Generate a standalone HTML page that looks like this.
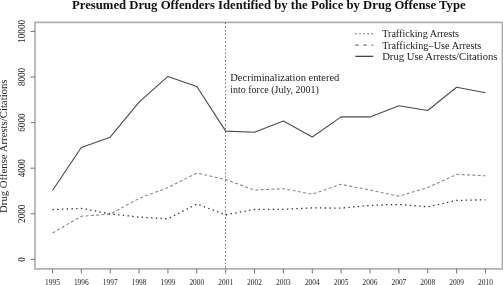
<!DOCTYPE html>
<html><head><meta charset="utf-8"><style>
html,body{margin:0;padding:0;background:#fff;}
svg{display:block;will-change:transform;}
text{font-family:"Liberation Serif",serif;fill:#222;}
</style></head><body>
<svg width="503" height="285" viewBox="0 0 503 285">
<text x="268.8" y="8.6" text-anchor="middle" font-weight="bold" font-size="12" textLength="393.6" lengthAdjust="spacingAndGlyphs" style="fill:#111">Presumed Drug Offenders Identified by the Police by Drug Offense Type</text>
<rect x="35" y="22.4" width="467.4" height="246.5" fill="none" stroke="#aaa" stroke-width="1.6"/>
<g stroke="#777" stroke-width="1"><line x1="30.5" y1="259.4" x2="35" y2="259.4"/><line x1="30.5" y1="213.8" x2="35" y2="213.8"/><line x1="30.5" y1="168.2" x2="35" y2="168.2"/><line x1="30.5" y1="122.6" x2="35" y2="122.6"/><line x1="30.5" y1="77.0" x2="35" y2="77.0"/><line x1="30.5" y1="31.4" x2="35" y2="31.4"/><line x1="52.5" y1="268.9" x2="52.5" y2="273.5"/><line x1="81.3" y1="268.9" x2="81.3" y2="273.5"/><line x1="110.2" y1="268.9" x2="110.2" y2="273.5"/><line x1="139.1" y1="268.9" x2="139.1" y2="273.5"/><line x1="167.9" y1="268.9" x2="167.9" y2="273.5"/><line x1="196.8" y1="268.9" x2="196.8" y2="273.5"/><line x1="225.7" y1="268.9" x2="225.7" y2="273.5"/><line x1="254.5" y1="268.9" x2="254.5" y2="273.5"/><line x1="283.4" y1="268.9" x2="283.4" y2="273.5"/><line x1="312.3" y1="268.9" x2="312.3" y2="273.5"/><line x1="341.1" y1="268.9" x2="341.1" y2="273.5"/><line x1="370.0" y1="268.9" x2="370.0" y2="273.5"/><line x1="398.9" y1="268.9" x2="398.9" y2="273.5"/><line x1="427.7" y1="268.9" x2="427.7" y2="273.5"/><line x1="456.6" y1="268.9" x2="456.6" y2="273.5"/><line x1="485.5" y1="268.9" x2="485.5" y2="273.5"/></g>
<g font-size="9.6"><text transform="translate(24.8,259.4) rotate(-90)" text-anchor="middle" textLength="4.5" lengthAdjust="spacingAndGlyphs">0</text><text transform="translate(24.8,213.8) rotate(-90)" text-anchor="middle" textLength="18.2" lengthAdjust="spacingAndGlyphs">2000</text><text transform="translate(24.8,168.2) rotate(-90)" text-anchor="middle" textLength="18.2" lengthAdjust="spacingAndGlyphs">4000</text><text transform="translate(24.8,122.6) rotate(-90)" text-anchor="middle" textLength="18.2" lengthAdjust="spacingAndGlyphs">6000</text><text transform="translate(24.8,77.0) rotate(-90)" text-anchor="middle" textLength="18.2" lengthAdjust="spacingAndGlyphs">8000</text><text transform="translate(24.8,31.4) rotate(-90)" text-anchor="middle" textLength="22.8" lengthAdjust="spacingAndGlyphs">10000</text></g>
<g font-size="7.4"><text x="52.5" y="284.9" text-anchor="middle">1995</text><text x="81.3" y="284.9" text-anchor="middle">1996</text><text x="110.2" y="284.9" text-anchor="middle">1997</text><text x="139.1" y="284.9" text-anchor="middle">1998</text><text x="167.9" y="284.9" text-anchor="middle">1999</text><text x="196.8" y="284.9" text-anchor="middle">2000</text><text x="225.7" y="284.9" text-anchor="middle">2001</text><text x="254.5" y="284.9" text-anchor="middle">2002</text><text x="283.4" y="284.9" text-anchor="middle">2003</text><text x="312.3" y="284.9" text-anchor="middle">2004</text><text x="341.1" y="284.9" text-anchor="middle">2005</text><text x="370.0" y="284.9" text-anchor="middle">2006</text><text x="398.9" y="284.9" text-anchor="middle">2007</text><text x="427.7" y="284.9" text-anchor="middle">2008</text><text x="456.6" y="284.9" text-anchor="middle">2009</text><text x="485.5" y="284.9" text-anchor="middle">2010</text></g>
<text transform="translate(6.9,146.2) rotate(-90)" text-anchor="middle" font-size="10.4" textLength="133.5" lengthAdjust="spacingAndGlyphs">Drug Offense Arrests/Citations</text>
<line x1="225.5" y1="22.5" x2="225.5" y2="268.5" stroke="#555" stroke-width="0.8" stroke-dasharray="1.6,2.15"/>
<text x="230.3" y="81" font-size="10.4" textLength="109" lengthAdjust="spacingAndGlyphs">Decriminalization entered</text>
<text x="230.3" y="92.6" font-size="10.4" textLength="88.5" lengthAdjust="spacingAndGlyphs">into force (July, 2001)</text>
<polyline points="52.5,190.5 81.3,147.5 110.2,137.2 139.1,102.1 167.9,76.4 196.8,86.5 225.7,131.1 254.5,132.3 283.4,120.9 312.3,137.0 341.1,116.9 370.0,116.9 398.9,105.8 427.7,110.5 456.6,87.3 485.5,92.7" fill="none" stroke="#4a4a4a" stroke-width="1.1" stroke-linejoin="round"/>
<polyline points="52.5,232.9 81.3,216.3 110.2,214.1 139.1,198.4 167.9,187.6 196.8,173.0 225.7,179.5 254.5,190.1 283.4,188.7 312.3,194.2 341.1,184.3 370.0,190.0 398.9,196.2 427.7,187.6 456.6,174.4 485.5,175.8" fill="none" stroke="#888" stroke-width="1.1" stroke-dasharray="3,2.35"/>
<polyline points="52.5,209.6 81.3,208.4 110.2,213.9 139.1,217.1 167.9,218.9 196.8,204.0 225.7,214.8 254.5,209.5 283.4,209.3 312.3,207.9 341.1,208.1 370.0,205.4 398.9,204.5 427.7,206.8 456.6,200.4 485.5,199.8" fill="none" stroke="#333" stroke-width="1.3" stroke-dasharray="1.4,3.33"/>
<line x1="355.3" y1="33.6" x2="373.4" y2="33.6" stroke="#666" stroke-width="1.3" stroke-dasharray="1.3,2.75"/>
<line x1="355.3" y1="45.2" x2="373.4" y2="45.2" stroke="#777" stroke-width="1.2" stroke-dasharray="3.5,4.6"/>
<line x1="355.4" y1="56.3" x2="373.3" y2="56.3" stroke="#222" stroke-width="1.1"/>
<g font-size="10.4">
<text x="382.2" y="37.4" textLength="76.7" lengthAdjust="spacingAndGlyphs">Trafficking Arrests</text>
<text x="382.2" y="48.5" textLength="99.2" lengthAdjust="spacingAndGlyphs">Trafficking–Use Arrests</text>
<text x="382.2" y="59.6" textLength="115.3" lengthAdjust="spacingAndGlyphs">Drug Use Arrests/Citations</text>
</g>
</svg>
</body></html>
